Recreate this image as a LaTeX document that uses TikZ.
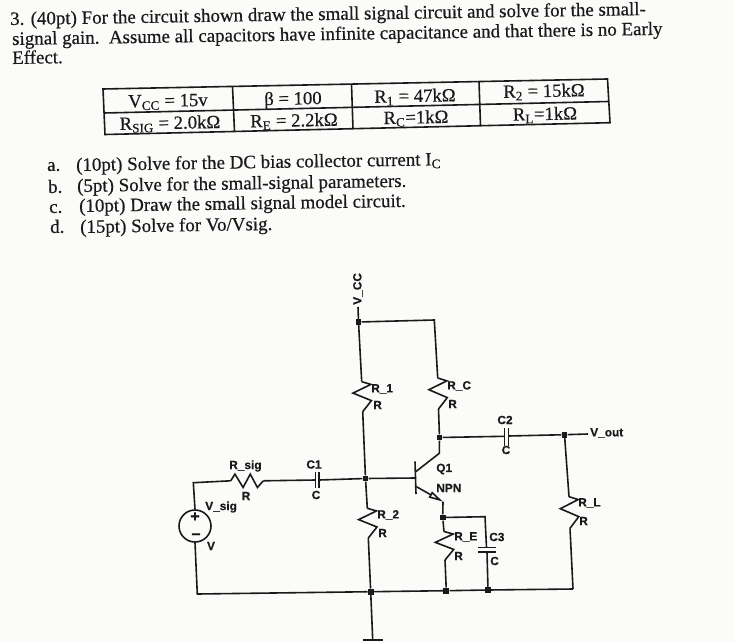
\documentclass[tikz,border=0pt]{standalone}
\usepackage{fontspec}
\setmainfont[FakeBold=0.5]{Liberation Serif}
\setsansfont[FakeBold=0.5]{Liberation Sans}
\usetikzlibrary{calc,arrows.meta}
\definecolor{encre}{HTML}{1A1A1A}
\definecolor{papier}{HTML}{FBFBFA}
\tikzset{fig/.style={
    line width=1.2pt,
    draw=encre},
  ligne/.style={
    anchor=base west,
    inner sep=0pt,
    text=encre,
    font=\fontsize{14.2}{15}\selectfont,
    rotate=0.9},
  cell/.style={
    inner sep=0pt,
    text=encre,
    font=\fontsize{14}{15}\selectfont,
    rotate=1.1},
  tag/.style={
    inner sep=0pt,
    text=encre,
    font=\sffamily\bfseries\fontsize{8.9}{10}\selectfont},
  jonction/.style={
    fill=encre,
    inner sep=0pt,
    minimum size=4.4pt},
  plaque/.style={
    line width=1.2pt,
    draw=encre},
  zigres/.style={
    to path={-- ($(\tikztostart)!.1!(\tikztotarget)!6.8pt!90:(\tikztotarget)$)
      -- ($(\tikztostart)!.37!(\tikztotarget)!6.8pt!-90:(\tikztotarget)$)
      -- ($(\tikztostart)!.64!(\tikztotarget)!6.8pt!90:(\tikztotarget)$)
      -- (\tikztotarget)}},
  zigsig/.style={
    to path={-- ($(\tikztostart)!.13!(\tikztotarget)!5pt!90:(\tikztotarget)$)
      -- ($(\tikztostart)!.38!(\tikztotarget)!5pt!-90:(\tikztotarget)$)
      -- ($(\tikztostart)!.6!(\tikztotarget)!5pt!90:(\tikztotarget)$)
      -- ($(\tikztostart)!.82!(\tikztotarget)!5pt!-90:(\tikztotarget)$)
      -- (\tikztotarget)}}}

\begin{document}
\begin{tikzpicture}[x=0.75pt,y=-0.75pt]

\fill[papier] (0,0) rectangle (734,642);
\useasboundingbox (0,0) rectangle (734,642);

\node[ligne] (l1) at (10,25) {3. (40pt) For the circuit shown draw the small signal circuit and solve for the small-};
\node[ligne] (l2) at (12,45) {signal gain.\ \ Assume all capacitors have infinite capacitance and that there is no Early};
\node[ligne] (l3) at (12,64) {Effect.};

\coordinate (T1) at (103,89);
\coordinate (T2) at (607.5,79);
\coordinate (M1) at (104,113);
\coordinate (M2) at (608.5,101.5);
\coordinate (B1) at (105,134.5);
\coordinate (B2) at (610,122.7);
\draw[fig] (T1) -- (T2) -- (B2) -- (B1) -- cycle;
\draw[fig] (M1) -- (M2);
\draw[fig] (232.5,86.5) -- (234.5,131.5);
\draw[fig] (351.5,84) -- (353,129);
\draw[fig] (479,81.5) -- (480.5,126);

\node[cell] (c11) at (168,102) {V\textsubscript{CC} = 15v};
\node[cell] (c12) at (293,100) {β = 100};
\node[cell] (c13) at (415,97) {R\textsubscript{1} = 47kΩ};
\node[cell] (c14) at (544,92) {R\textsubscript{2} = 15kΩ};
\node[cell] (c21) at (170,124) {R\textsubscript{SIG} = 2.0kΩ};
\node[cell] (c22) at (294,121.5) {R\textsubscript{E} = 2.2kΩ};
\node[cell] (c23) at (416,118.5) {R\textsubscript{C}=1kΩ};
\node[cell] (c24) at (545,115) {R\textsubscript{L}=1kΩ};

\node[ligne] (a1) at (47,171) {a.};
\node[ligne] (a2) at (76,171) {(10pt) Solve for the DC bias collector current I\textsubscript{C}};
\node[ligne] (b1) at (48,193) {b.};
\node[ligne] (b2) at (77,192) {(5pt) Solve for the small-signal parameters.};
\node[ligne] (c1) at (49,213) {c.};
\node[ligne] (c2) at (79,212) {(10pt) Draw the small signal model circuit.};
\node[ligne] (d1) at (50,233) {d.};
\node[ligne] (d2) at (80,233) {(15pt) Solve for Vo/Vsig.};

\node[jonction] (jvcc) at (358.5,322) {};
\node[jonction] (jb) at (365.5,478.5) {};
\node[jonction] (jc) at (439.5,437.5) {};
\node[jonction] (je) at (442.7,517.5) {};
\node[jonction] (jout) at (564.5,434.7) {};
\node[jonction] (jg) at (370.7,591.7) {};
\node[jonction] (jre) at (446.3,590.7) {};
\node[jonction] (jc3) at (488,590) {};

\node[fig,
  circle,
  inner sep=0pt,
  minimum size=24pt] (vsig) at (195,526) {};
\node[inner sep=0pt,text=encre,font=\sffamily\bfseries\fontsize{12}{12}\selectfont] (vplus) at (195,517) {+};
\node[inner sep=0pt,text=encre,font=\sffamily\bfseries\fontsize{12}{12}\selectfont] (vmoins) at (196,536) {--};

\coordinate (r1a) at (361.7,381.7);
\coordinate (r1b) at (362.7,411.7);
\coordinate (r2a) at (367.3,508.3);
\coordinate (r2b) at (368.3,538);
\coordinate (rca) at (437.7,378);
\coordinate (rcb) at (438.5,409);
\coordinate (rea) at (444,531.5);
\coordinate (reb) at (445,560);
\coordinate (rla) at (569,496.7);
\coordinate (rlb) at (570,528.3);
\coordinate (rsa) at (230.7,480.8);
\coordinate (rsb) at (263.3,480.8);
\coordinate (topc) at (434.3,320);
\coordinate (srct) at (193.3,482.7);
\coordinate (srcb) at (197.3,594);
\coordinate (cornr) at (573,589);
\coordinate (corc3) at (485,516.7);
\coordinate (vcct) at (358,307);
\coordinate (vout) at (588,434);
\coordinate (gnd) at (372.7,640);
\coordinate (gnda) at (363,640);
\coordinate (gndb) at (383,640);

\coordinate (c1g) at (315.3,480);
\coordinate (c1d) at (319,480);
\draw[fig] (rsb) -- (c1g);
\draw[plaque] (315.3,472) -- (315.3,488);
\draw[plaque] (319,472) -- (319,488);
\draw[fig] (c1d) -- (jb);

\coordinate (c2g) at (504.3,436.3);
\coordinate (c2d) at (508.3,436);
\draw[fig] (jc) -- (c2g);
\draw[plaque] (504.3,428) -- (504.3,446);
\draw[plaque] (508.3,428) -- (508.3,446);
\draw[fig] (c2d) -- (jout);

\coordinate (c3h) at (486.5,547.3);
\coordinate (c3b) at (487,552);
\draw[fig] (je) -- (corc3) -- (c3h);
\draw[plaque] (477.5,547.3) -- (495.5,547.3);
\draw[plaque] (477.5,552) -- (495.5,552);
\draw[fig] (c3b) -- (jc3);

\draw[fig] (vcct) -- (jvcc);
\draw[fig] (jvcc) -- (topc) -- (rca);
\draw[fig] (jvcc) -- (r1a);
\draw[fig] (r1a) to[zigres] (r1b);
\draw[fig] (r1b) -- (jb);
\draw[fig] (jb) -- (r2a);
\draw[fig] (r2a) to[zigres] (r2b);
\draw[fig] (r2b) -- (jg);
\draw[fig] (rca) to[zigres] (rcb);
\draw[fig] (rcb) -- (jc);
\draw[fig] (je) -- (rea);
\draw[fig] (rea) to[zigres] (reb);
\draw[fig] (reb) -- (jre);
\draw[fig] (jout) -- (rla);
\draw[fig] (rla) to[zigres] (rlb);
\draw[fig] (rlb) -- (cornr);
\draw[fig] (jout) -- (vout);
\draw[fig] (vsig.north) -- (srct) -- (rsa);
\draw[fig] (rsa) to[zigsig] (rsb);
\draw[fig] (vsig.south) -- (srcb) -- (jg);
\draw[fig] (jg) -- (jre) -- (jc3) -- (cornr);
\draw[fig] (jg) -- (gnd);
\draw[fig,line width=1.6pt] (gnda) -- (gndb);

\coordinate (qb) at (415,478);
\coordinate (qc1) at (415.7,471.7);
\coordinate (qc2) at (439.3,453.3);
\coordinate (qe1) at (416.5,486.7);
\coordinate (qe2) at (443,501.7);
\draw[fig] (jb) -- (qb);
\draw[fig] (415,461.5) -- (416,494);
\draw[fig] (qc1) -- (qc2) -- (jc);
\draw[fig,-{Triangle[open,fill=papier,length=11pt,width=5pt]}] (qe1) -- (qe2);
\draw[fig] (qe2) -- (je);

\node[tag,rotate=90,anchor=west] (lvcc) at (358,305) {V\_CC};
\node[tag,anchor=west] (lr1) at (371,389) {R\_1};
\node[tag,anchor=west] (lr1v) at (373,405) {R};
\node[tag,anchor=west] (lrc) at (447,386) {R\_C};
\node[tag,anchor=west] (lrcv) at (448,404) {R};
\node[tag,anchor=west] (lr2) at (377,515) {R\_2};
\node[tag,anchor=west] (lr2v) at (378,533) {R};
\node[tag,anchor=west] (lre) at (454,537) {R\_E};
\node[tag,anchor=west] (lrev) at (454,556) {R};
\node[tag,anchor=west] (lrl) at (578,503) {R\_L};
\node[tag,anchor=west] (lrlv) at (579,521) {R};
\node[tag,anchor=west] (lvout) at (590,433) {V\_out};
\node[tag] (lc1) at (314,464.5) {C1};
\node[tag] (lc1v) at (316,495) {C};
\node[tag] (lc2) at (505,420) {C2};
\node[tag] (lc2v) at (506,450) {C};
\node[tag,anchor=west] (lc3) at (489,537) {C3};
\node[tag,anchor=west] (lc3v) at (490,561) {C};
\node[tag,anchor=west] (lrs) at (229,466) {R\_sig};
\node[tag] (lrsv) at (246,496) {R};
\node[tag,anchor=west] (lvs) at (205,507) {V\_sig};
\node[tag] (lvv) at (211,546) {V};
\node[tag,anchor=west] (lq) at (436,469) {Q1};
\node[tag,anchor=west] (lnpn) at (436,488) {NPN};

\end{tikzpicture}
\end{document}
